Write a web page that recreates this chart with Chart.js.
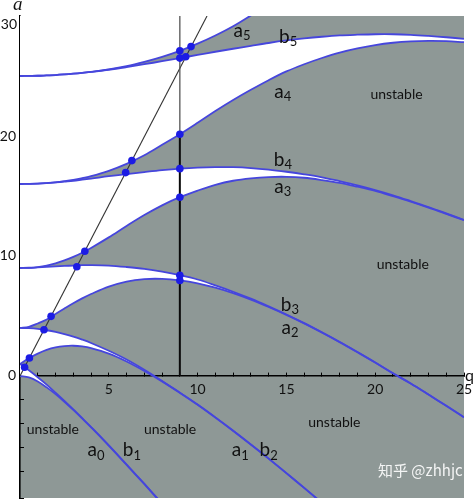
<!DOCTYPE html>
<html><head><meta charset="utf-8">
<script src="https://cdn.jsdelivr.net/npm/chart.js@4.4.0/dist/chart.umd.min.js"></script>
<style>html,body{margin:0;padding:0;background:#fff;}canvas{display:block;}</style>
</head><body>
<canvas id="c" width="475" height="500"></canvas>
<script>
// ---- data (Mathieu characteristic values a_r, b_r versus q) ----
var qVals = [0,0.5,1,1.5,2,2.5,3,3.5,4,5,6,7,8,9,10,11,12,13,14,15,16,17,18,19,20,21,22,23,24,25];
var a0 = [0,-0.12,-0.46,-0.95,-1.51,-2.15,-2.83,-3.54,-4.27,-5.80,-7.39,-9.0,-10.64,-12.29,-13.94,-15.61,-17.29,-18.98,-20.68,-22.51,-24.28,-26.05,-27.83,-29.6,-31.31,-33.1,-34.9,-36.68,-38.47,-40.26];
var b1 = [1,0.47,-0.11,-0.72,-1.39,-2.08,-2.79,-3.52,-4.26,-5.79,-7.39,-9.0,-10.64,-12.29,-13.94,-15.61,-17.29,-18.98,-20.68,-22.51,-24.28,-26.05,-27.83,-29.6,-31.31,-33.1,-34.9,-36.68,-38.47,-40.26];
var a1 = [1,1.47,1.86,2.17,2.38,2.49,2.52,2.46,2.32,1.86,1.21,0.42,-0.45,-1.4,-2.4,-3.46,-4.57,-5.72,-6.89,-8.1,-9.33,-10.58,-11.86,-13.17,-14.49,-15.83,-17.18,-18.55,-19.93,-21.31];
var b2 = [4,3.98,3.92,3.81,3.67,3.49,3.28,3.03,2.75,2.1,1.37,0.52,-0.41,-1.39,-2.38,-3.45,-4.56,-5.71,-6.89,-8.1,-9.33,-10.58,-11.86,-13.17,-14.49,-15.83,-17.18,-18.55,-19.93,-21.31];
var a2 = [4,4.1,4.37,4.7,5.17,5.62,6.06,6.47,6.83,7.45,7.87,8.07,8.09,7.96,7.72,7.36,6.9,6.36,5.75,5.09,4.38,3.62,2.82,1.98,1.12,0.22,-0.63,-1.55,-2.49,-3.44];
var b3 = [9,9.01,9.05,9.09,9.13,9.17,9.2,9.23,9.24,9.2,9.08,8.92,8.69,8.4,8.04,7.55,7.02,6.44,5.8,5.12,4.4,3.63,2.83,1.99,1.12,0.22,-0.63,-1.55,-2.49,-3.44];
var a3 = [9,9.02,9.08,9.2,9.39,9.63,9.92,10.27,10.67,11.55,12.5,13.41,14.22,14.9,15.45,15.93,16.27,16.47,16.58,16.6,16.52,16.33,16.09,15.77,15.42,14.98,14.52,14.03,13.51,12.98];
var b4 = [16,16.01,16.03,16.07,16.13,16.2,16.27,16.36,16.45,16.65,16.82,16.99,17.15,17.28,17.37,17.41,17.4,17.33,17.2,17.02,16.81,16.56,16.23,15.88,15.49,15.06,14.58,14.08,13.55,13.01];
var a4 = [16,16.01,16.03,16.08,16.14,16.23,16.34,16.49,16.65,17.1,17.68,18.4,19.27,20.15,21.1,22.08,23.0,23.85,24.65,25.38,25.98,26.5,26.95,27.3,27.58,27.77,27.88,27.92,27.9,27.82];
var b5 = [25,25.01,25.02,25.05,25.08,25.13,25.19,25.26,25.34,25.52,25.74,25.98,26.23,26.49,26.76,27.02,27.27,27.51,27.75,27.96,28.13,28.27,28.38,28.44,28.48,28.48,28.43,28.34,28.23,28.1];
var a5 = [25,25.01,25.02,25.05,25.08,25.13,25.19,25.26,25.34,25.55,25.82,26.18,26.6,27.1,27.7,28.38,29.15,30.05,30.98,31.95,32.93,33.9,34.87,35.78,36.62,37.45,38.2,38.88,39.5,40.1];
// straight guide lines
var diagLineQ = [0, 10.53];
var diagLineA = [0, 30];
var vertLowQ = [9, 9];
var vertLowA = [0, 20.15];
var vertHighQ = [9, 9];
var vertHighA = [20.15, 30];
// marked intersection points
var diagDotQ = [0.26, 0.53, 1.35, 1.75, 3.2, 3.65, 5.95, 6.3, 9.33, 9.63];
var diagDotA = [0.73, 1.5, 3.85, 4.97, 9.1, 10.4, 16.95, 17.95, 26.6, 27.45];
var vertDotQ = [9, 9, 9, 9, 9, 9, 9];
var vertDotA = [7.96, 8.4, 14.9, 17.28, 20.15, 26.49, 27.1];
// tick label values
var yTickLabels = [0, 10, 20, 30];
var xTickLabels = [5, 10, 15, 20, 25];

function pts(xs, ys){ return xs.map(function(x,i){ return {x:x, y:ys[i]}; }); }

var CURVE = 'rgb(70,70,220)';
var GRAY = 'rgb(142,152,150)';
var W = '#ffffff';

function curve(label, arr, fill){
  return {label:label, data:pts(qVals, arr), borderColor:CURVE, borderWidth:1.8,
    pointRadius:0, tension:0.35, fill: fill || false};
}
// dataset indices: 0,1 dots; 2,3,4 guide lines; 5..15 curves a0,b1,a1,b2,a2,b3,a3,b4,a4,b5,a5
var datasets = [
  {label:'diagDots', data:pts(diagDotQ, diagDotA), showLine:false, pointRadius:3.8, pointBackgroundColor:'rgb(28,28,228)', pointBorderWidth:0},
  {label:'vertDots', data:pts(vertDotQ, vertDotA), showLine:false, pointRadius:3.8, pointBackgroundColor:'rgb(28,28,228)', pointBorderWidth:0},
  {label:'vertLow', data:pts(vertLowQ, vertLowA), borderColor:'#0a0a0a', borderWidth:2, pointRadius:0, tension:0},
  {label:'vertHigh', data:pts(vertHighQ, vertHighA), borderColor:'#555', borderWidth:1.3, pointRadius:0, tension:0},
  {label:'diag', data:pts(diagLineQ, diagLineA), borderColor:'#333', borderWidth:1.1, pointRadius:0, tension:0},
  curve('a0', a0, {target:6, above:W, below:W}),
  curve('b1', b1),
  curve('a1', a1, {target:8, above:W, below:W}),
  curve('b2', b2),
  curve('a2', a2, {target:10, above:W, below:W}),
  curve('b3', b3),
  curve('a3', a3, {target:12, above:W, below:W}),
  curve('b4', b4),
  curve('a4', a4, {target:14, above:W, below:W}),
  curve('b5', b5),
  curve('a5', a5, {target:'end', above:W, below:W})
];

// annotation texts, placed in data coordinates (q, a)
var curveLabels = [
  {t:'a', s:'0', q:4.28, a:-6.2}, {t:'b', s:'1', q:6.3, a:-6.2},
  {t:'a', s:'1', q:12.4, a:-6.2}, {t:'b', s:'2', q:14.0, a:-6.2},
  {t:'b', s:'3', q:15.2, a:5.9}, {t:'a', s:'2', q:15.2, a:4.0},
  {t:'b', s:'4', q:14.8, a:18.0}, {t:'a', s:'3', q:14.8, a:15.75},
  {t:'a', s:'4', q:14.8, a:23.67}, {t:'b', s:'5', q:15.1, a:28.25},
  {t:'a', s:'5', q:12.5, a:28.75}
];
var regionLabels = [
  {q:1.85, a:-4.5}, {q:8.45, a:-4.5}, {q:17.7, a:-3.9}, {q:21.55, a:9.25}, {q:21.2, a:23.5}
];

var bgPlugin = {
  id:'bg',
  beforeDraw: function(chart){
    var c = chart.ctx, ca = chart.chartArea;
    c.save(); c.fillStyle = GRAY; c.fillRect(ca.left, ca.top, ca.right-ca.left, ca.bottom-ca.top); c.restore();
  }
};
var textPlugin = {
  id:'texts',
  afterDraw: function(chart){
    var c = chart.ctx, xs = chart.scales.x, ys = chart.scales.y;
    c.save();
    c.fillStyle = '#111';
    c.textBaseline = 'middle';
    c.textAlign = 'center';
    c.font = '14px Lato';
    regionLabels.forEach(function(r){ c.fillText('unstable', xs.getPixelForValue(r.q), ys.getPixelForValue(r.a)); });
    curveLabels.forEach(function(l){
      var x = xs.getPixelForValue(l.q), y = ys.getPixelForValue(l.a);
      c.font = '19px Lato'; var w1 = c.measureText(l.t).width;
      c.font = '13px Lato'; var w2 = c.measureText(l.s).width;
      var x0 = x - (w1 + w2)/2;
      c.textAlign = 'left';
      c.font = '19px Lato'; c.fillText(l.t, x0, y);
      c.font = '13px Lato'; c.fillText(l.s, x0 + w1, y + 5);
      c.textAlign = 'center';
    });
    // axis names
    c.textAlign = 'left'; c.textBaseline = 'alphabetic';
    c.font = 'italic 19px "Liberation Serif"';
    c.fillText('a', 13, 10);
    c.font = '16px Lato';
    c.fillText('q', 465, 381);
    // top y tick label (drawn slightly below its tick as in the figure)
    c.textAlign = 'right'; c.textBaseline = 'middle'; c.font = '14px Lato';
    c.fillText(String(yTickLabels[3]), 17, ys.getPixelForValue(30) + 8);
    // watermark
    c.textAlign = 'left'; c.font = '15px "Noto Sans CJK SC"'; c.fillStyle = 'rgba(255,255,255,0.9)';
    c.fillText('知乎 @zhhjc', 378, 470);
    c.restore();
  }
};

function noPad(s){ s.paddingLeft = 0; s.paddingRight = 0; s.paddingTop = 0; s.paddingBottom = 0; }

new Chart(document.getElementById('c'), {
  type:'line',
  data:{datasets:datasets},
  options:{
    responsive:false, animation:false, devicePixelRatio:1,
    layout:{autoPadding:false, padding:{left:0, right:11, top:16, bottom:2}},
    plugins:{legend:{display:false}, tooltip:{enabled:false}, filler:{drawTime:'beforeDatasetsDraw', propagate:false}},
    scales:{
      x:{type:'linear', min:0, max:25, position:{y:0}, z:1,
        border:{display:true, color:'#000', width:1.6},
        grid:{drawOnChartArea:false, drawTicks:true, tickLength:-4, color:'#000', lineWidth:1},
        ticks:{stepSize:1, autoSkip:false, maxRotation:0, padding:9, color:'#111', font:{family:'Lato', size:14},
          callback:function(v){ return xTickLabels.indexOf(v) >= 0 ? String(v) : ''; }},
        afterFit:function(s){ s.height = 0; noPad(s); }
      },
      y:{type:'linear', min:-10.17, max:30, position:'left', z:1,
        border:{display:true, color:'#000', width:1.6},
        grid:{drawOnChartArea:false, drawTicks:true, tickLength:-4, color:'#000', lineWidth:1},
        ticks:{stepSize:2, autoSkip:false, padding:8, color:'#111', font:{family:'Lato', size:14},
          callback:function(v){ return (yTickLabels.indexOf(v) >= 0 && v !== 30) ? String(v) : ''; }},
        afterFit:function(s){ s.width = 20; noPad(s); }
      }
    }
  },
  plugins:[bgPlugin, textPlugin]
});
</script></body></html>
